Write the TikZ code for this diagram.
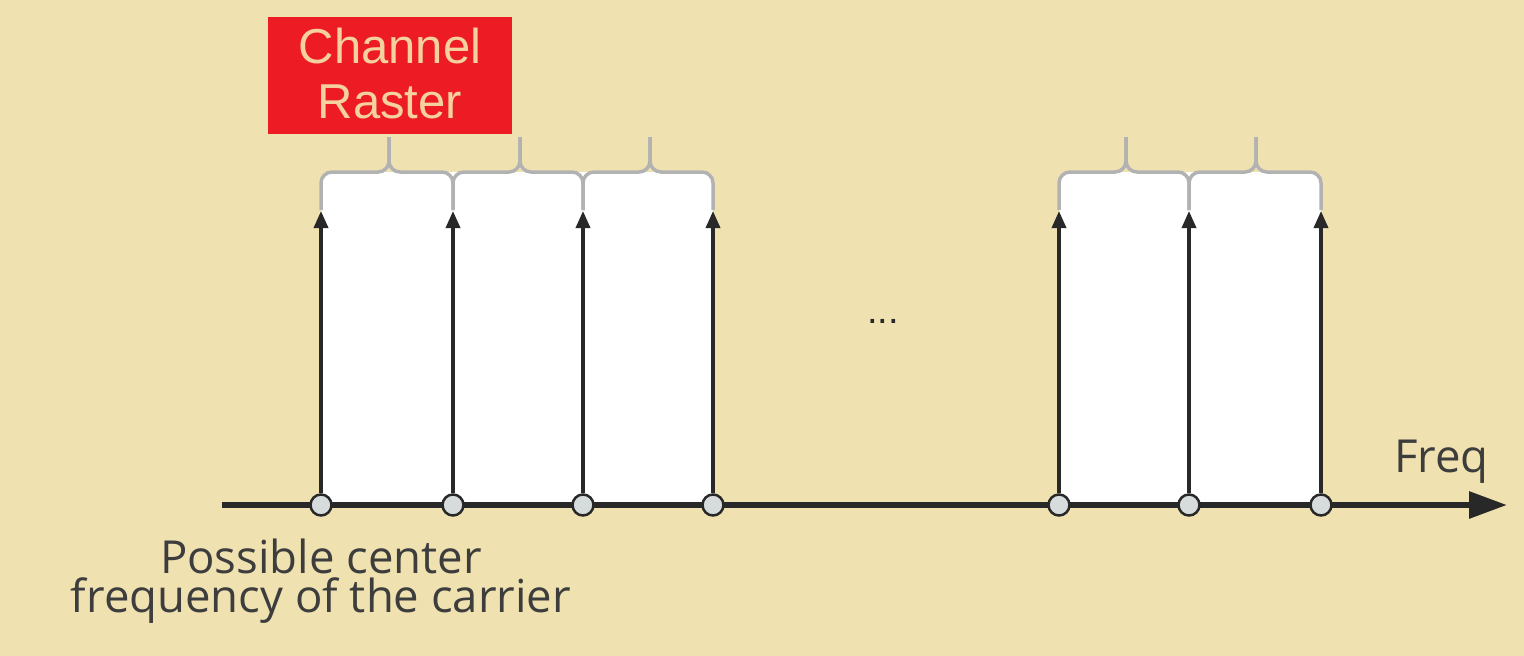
\documentclass[tikz,border=0pt]{standalone}
\usepackage{fontspec}
\setmainfont{Liberation Sans}
\newfontfamily\labelfont{Open Sans}
\usetikzlibrary{arrows.meta}
\definecolor{bgc}{RGB}{239,226,176}
\definecolor{redc}{RGB}{237,28,36}
\definecolor{peach}{RGB}{245,208,160}
\definecolor{darkc}{RGB}{40,40,40}
\definecolor{bracec}{RGB}{178,178,178}
\definecolor{dotc}{RGB}{214,220,220}
\tikzset{
  axisline/.style={line width=6pt, draw=darkc, -{Triangle[length=38pt,width=26pt]}},
  rasterarrow/.style={line width=3.5pt, draw=darkc, -{Triangle[length=17pt,width=14pt]}},
  bracepath/.style={line width=3.5pt, draw=bracec, rounded corners=11pt},
  dotnode/.style={circle, minimum size=21pt, inner sep=0pt, fill=dotc, draw=darkc, line width=2.5pt},
  whitebox/.style={fill=white},
  label/.style={font=\labelfont\fontsize{45.5}{39}\selectfont, text=darkc!90, inner sep=0pt},
}
\begin{document}
\begin{tikzpicture}[x=1pt,y=-1pt]
\fill[bgc] (0,0) rectangle (1524,656);
\useasboundingbox (0,0) rectangle (1524,656);
% white areas
\fill[whitebox] (321,505) -- (321,183) arc[start angle=180,end angle=270,radius=11] -- (702,172) arc[start angle=270,end angle=360,radius=11] -- (713,505) -- cycle;
\fill[whitebox] (1059,505) -- (1059,183) arc[start angle=180,end angle=270,radius=11] -- (1310,172) arc[start angle=270,end angle=360,radius=11] -- (1321,505) -- cycle;
% axis
\coordinate (axs) at (222,505);
\coordinate (axe) at (1507,505);
\draw[axisline] (axs) -- (axe);
% center frequencies
\foreach \n/\x in {a/321,b/453,c/583,d/713,e/1059,f/1189,g/1321}{
  \coordinate (t\n) at (\x,211);
  \node[dotnode] (p\n) at (\x,505) {};
}
\foreach \n in {a,b,c,d,e,f,g}{
  \draw[rasterarrow] (p\n.north) -- (t\n);
}
% braces
\foreach \l/\r/\m in {321/453/389,453/583/520,583/713/650,1059/1189/1126,1189/1321/1256}{
  \draw[bracepath] (\l,210) -- (\l,172) -- (\m,172) -- (\m,137);
  \draw[bracepath] (\r,210) -- (\r,172) -- (\m,172) -- (\m,137);
}
% channel raster label
\node[fill=redc, minimum width=244pt, minimum height=117pt, inner sep=0pt] (cr) at (390,75.5) {};
\node[font=\fontsize{49}{55}\selectfont, text=peach, align=center, anchor=base, inner sep=0pt] (crt) at (390,118) {Channel\\Raster};
% ellipsis
\node[font=\fontsize{38}{40}\selectfont, text=darkc, inner sep=0pt, anchor=base] (ell) at (883,323) {...};
% freq
\node[label, anchor=base west] (fq) at (1394,472) {Freq};
% bottom label
\node[label, align=center, anchor=base] (pc) at (321,612) {Possible center\\frequency of the carrier};
\end{tikzpicture}
\end{document}
